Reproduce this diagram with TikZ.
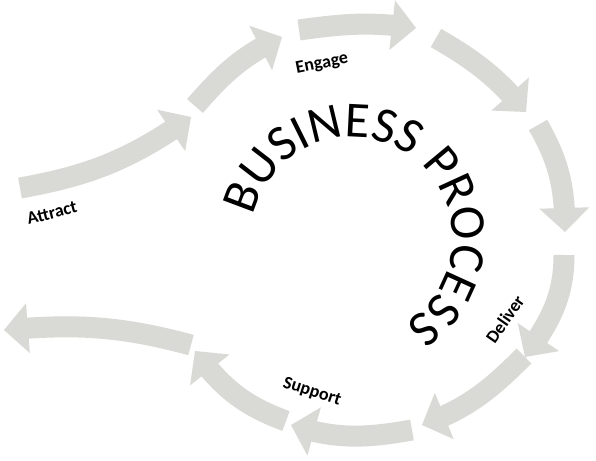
\documentclass[tikz,border=0pt]{standalone}
\usepackage{fontspec}
\setmainfont{Carlito}
\usetikzlibrary{arrows.meta,bending,decorations.text}
\definecolor{arrowgray}{RGB}{217,217,214}
\begin{document}
\begin{tikzpicture}[x=1pt,y=1pt,
  flow/.style={draw=arrowgray, line width=21pt,
    -{Triangle[width=50pt,length=24pt,line width=0pt]}},
  lbl/.style={font=\bfseries\fontsize{18}{20}\selectfont, inner sep=0pt}]
\useasboundingbox (0,0) rectangle (596,460);
\fill[white] (0,0) rectangle (596,460);
% arrow end points
\coordinate (t1) at (20,272);  \coordinate (h1) at (191,343);
\coordinate (t2) at (195,354); \coordinate (h2) at (282,423);
\coordinate (t3) at (299,430); \coordinate (h3) at (416,432);
\coordinate (t4) at (436,422); \coordinate (h4) at (526,348);
\coordinate (t5) at (538,335); \coordinate (h5) at (565,228);
\coordinate (t6) at (564,205); \coordinate (h6) at (525,103);
\coordinate (t7) at (524,104); \coordinate (h7) at (422,35);
\coordinate (t8) at (412,30);  \coordinate (h8) at (291,35);
\coordinate (t9) at (286,39);  \coordinate (h9) at (195,109);
\coordinate (t10) at (191,115); \coordinate (h10) at (4,130);
\draw[flow] (t1) to[out=10,in=215] (h1);
\draw[flow] (t2) to[out=49,in=205] (h2);
\draw[flow] (t3) to[out=8,in=172] (h3);
\draw[flow] (t4) to[out=-30,in=130] (h4);
\draw[flow] (t5) to[out=-60,in=90] (h5);
\draw[flow] (t6) to[out=-90,in=55] (h6);
\draw[flow] (t7) to[out=-135,in=20] (h7);
\draw[flow] (t8) to[out=190,in=-18] (h8);
\draw[flow] (t9) to[out=160,in=-54] (h9);
\draw[flow] (t10) to[out=165,in=5] (h10);
% central arched title
\coordinate (ctr) at (352,222);
\path[decorate, decoration={text along path,
   text={|\fontsize{50.5}{60}\selectfont|BUSINESS PROCESS}, text align=left}]
  (ctr) ++(167.2:100.7pt) arc[start angle=167.2, end angle=-100, radius=100.7pt];
% labels
\node[lbl, rotate=14] (attract) at (52,247) {Attract};
\node[lbl, rotate=11] (engage) at (322,396) {Engage};
\node[lbl, rotate=55] (deliver) at (505,141) {Deliver};
\node[lbl, rotate=-18] (support) at (312,68) {Support};
\end{tikzpicture}
\end{document}
